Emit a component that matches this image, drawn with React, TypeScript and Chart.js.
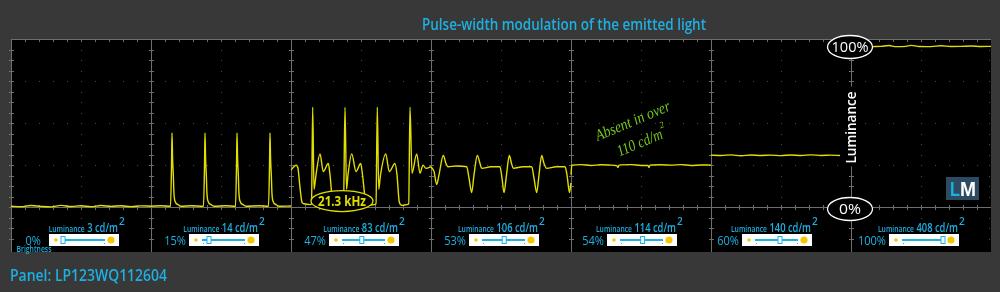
import React, { useEffect, useRef } from 'react';
import { Chart, registerables } from 'chart.js';

Chart.register(...registerables);

// ---------- data ----------
const brightnessPct = [0, 15, 47, 53, 54, 60, 100];
const luminanceCd = [3, 14, 83, 106, 114, 140, 408];
const frequencyLabel = '21.3 kHz';
const titleText = 'Pulse-width modulation of the emitted light';
const panelText = 'Panel: LP123WQ112604';
const absentLine1 = 'Absent in over';
const absentLine2 = '110 cd/m';

// each trace: [time within panel (0..140), luminance %]
const trace0: [number, number][] = [
  [0, 0.5], [10, 0.2], [20, 0.9], [30, 0.4], [40, 0.1], [50, 1.0], [60, 0.3], [70, 0.8],
  [80, 0.2], [90, 0.9], [100, 0.4], [110, 0.8], [120, 0.2], [130, 0.7], [140, 0.5],
];
const trace15: [number, number][] = [
  [0, 0.5], [10, 0.8], [19.5, 0.5], [20.5, 25], [21, 46], [21.6, 30], [22.3, 20], [23, 8], [24.5, 3], [27, 1.5], [30, 0.5],
  [40, 0.8], [52.5, 0.5], [53.5, 25], [54, 46], [54.6, 30], [55.3, 20], [56, 8], [57.5, 3], [60, 1.5], [63, 0.5],
  [75, 0.8], [84.5, 0.5], [85.5, 25], [86, 46], [86.6, 30], [87.3, 20], [88, 8], [89.5, 3], [92, 1.5], [95, 0.5],
  [108, 0.8], [117.5, 0.5], [118.5, 25], [119, 46], [119.6, 30], [120.3, 20], [121, 8], [122.5, 3], [125, 1.5], [128, 0.5],
  [140, 0.6],
];
const trace47: [number, number][] = [
  [0, 23], [3, 25], [5, 26], [7, 24], [9, 12], [11, 3], [13, 2], [19, 1.5], [20.5, 2], [21.7, 62], [23, 11], [25, 20],
  [29, 33], [32.3, 22], [37.3, 27], [39, 20], [41.7, 3], [44, 1], [50, 1.5], [52.5, 2], [54, 62], [55.5, 11], [57, 20],
  [60.7, 33], [65, 22], [69.7, 27], [71.5, 20], [74.7, 3], [77, 1], [83, 1.5], [85, 2], [86.3, 62], [87.7, 11], [89.5, 20],
  [94.7, 33], [98.3, 22], [104, 27], [106, 20], [108.3, 3], [111, 1], [116, 1.5], [117.7, 2], [119, 62], [121, 21],
  [125.7, 33], [129, 21], [132, 26], [135, 24], [140, 25],
];
const trace53: [number, number][] = [
  [0, 25], [3, 22], [5.7, 14], [8, 20], [12.3, 32], [15, 27], [17, 25], [25, 25.5], [35.7, 25], [38, 18], [40.7, 9],
  [43, 20], [46.3, 32], [49, 27], [50.7, 24], [60, 25], [69, 25], [71, 18], [73, 9], [75.5, 20], [78.3, 32], [80.5, 27],
  [82.3, 24], [92, 25], [100.7, 25], [103, 18], [105.7, 9], [108, 20], [110.7, 32], [113, 27], [115.7, 24], [125, 25],
  [134, 25], [136, 20], [138.5, 9], [140, 15],
];
const trace54: [number, number][] = [
  [0, 20], [0.8, 26], [10, 26.3], [20, 25.8], [30, 26.2], [40, 26], [46, 25.5], [47, 24.5], [48, 26], [60, 26.3],
  [70, 25.8], [77, 25.8], [78, 24.5], [79, 26], [90, 26.2], [100, 26], [110, 26.3], [120, 25.8], [130, 26.1], [140, 26],
];
const trace60: [number, number][] = [
  [0, 32.2], [10, 32], [20, 32.4], [30, 31.8], [40, 32.3], [50, 32], [60, 32.2], [70, 31.9], [80, 32.3], [90, 32],
  [100, 32.4], [110, 32], [120, 32.2], [129, 32],
];
const trace100: [number, number][] = [
  [22, 99.6], [30, 99.8], [38, 100.3], [45, 99.6], [55, 99.8], [60, 100.4], [68, 99.7], [80, 99.6], [90, 100.2],
  [100, 99.7], [110, 99.8], [120, 100], [130, 99.7], [140, 99.8],
];
const traces = [trace0, trace15, trace47, trace53, trace54, trace60, trace100];

const PANEL = 140;
const Y_MAX = 104.35;
const Y_MIN = -26.09;

const CYAN = '#1db0e2';
const YELLOW = '#e2de00';

function buildPoints() {
  const pts: { x: number; y: number | null }[] = [];
  traces.forEach((tr, i) => {
    if (i > 0) pts.push({ x: i * PANEL, y: null });
    tr.forEach(([t, v]) => pts.push({ x: i * PANEL + t, y: v }));
  });
  return pts;
}

function drawScaled(ctx: CanvasRenderingContext2D, text: string, x: number, y: number, sx: number, align: 'left' | 'center' | 'right') {
  const w = ctx.measureText(text).width * sx;
  const x0 = align === 'left' ? x : align === 'center' ? x - w / 2 : x - w;
  ctx.save();
  ctx.translate(x0, y);
  ctx.scale(sx, 1);
  ctx.textAlign = 'left';
  ctx.fillText(text, 0, 0);
  ctx.restore();
  return w;
}

function drawFit(ctx: CanvasRenderingContext2D, text: string, x: number, y: number, width: number, align: 'left' | 'center' | 'right') {
  const w = ctx.measureText(text).width;
  return drawScaled(ctx, text, x, y, width / w, align);
}

const backgroundPlugin = {
  id: 'scopeBackground',
  beforeDraw(chart: any) {
    const { ctx, chartArea: a } = chart;
    ctx.save();
    ctx.fillStyle = '#383838';
    ctx.fillRect(0, 0, chart.width, chart.height);
    ctx.fillStyle = '#000000';
    ctx.fillRect(a.left, a.top, a.right - a.left, a.bottom - a.top + 3);
    ctx.restore();
  },
};

const gridPlugin = {
  id: 'scopeGrid',
  beforeDatasetsDraw(chart: any) {
    const { ctx, chartArea: a } = chart;
    const w = a.right - a.left;
    const h = a.bottom - a.top;
    const dx = w / 14;
    const dy = h / 5;
    const mx = dx / 5;
    const my = dy / 4;
    ctx.save();
    ctx.fillStyle = '#4c4c4c';
    for (let k = 1; k <= 3; k++) {
      const yy = Math.round(a.top + k * dy);
      for (let xx = a.left + mx; xx < a.right; xx += mx) ctx.fillRect(Math.round(xx), yy, 1, 1);
    }
    for (let j = 0; j < 7; j++) {
      const xx = Math.round(a.left + dx + j * 2 * dx);
      for (let yy = a.top + my; yy < a.bottom; yy += my) ctx.fillRect(xx, Math.round(yy), 1, 1);
    }
    for (let yy = a.top + my; yy < a.bottom; yy += my) ctx.fillRect(Math.round(a.right) - 2, Math.round(yy), 1, 1);
    ctx.fillStyle = '#6e6e6e';
    for (let j = 0; j < 7; j++) {
      const xx = Math.round(a.left + j * 2 * dx);
      ctx.fillRect(xx, a.top, 1, h + 3);
      for (let yy = a.top + my; yy < a.bottom; yy += my) ctx.fillRect(xx - 2, Math.round(yy), 5, 1);
    }
    const base = Math.round(a.top + 4 * dy);
    ctx.fillRect(a.left, Math.round(a.top), w, 1);
    ctx.fillRect(a.left, base, w, 1);
    for (let xx = a.left + mx; xx < a.right; xx += mx) {
      ctx.fillRect(Math.round(xx), Math.round(a.top), 1, 3);
      ctx.fillRect(Math.round(xx), base - 2, 1, 5);
    }
    ctx.restore();
  },
};

function ellipseLabel(ctx: CanvasRenderingContext2D, cx: number, cy: number, rx: number, ry: number, stroke: string, text: string, font: string, textW: number) {
  ctx.save();
  ctx.beginPath();
  ctx.ellipse(cx, cy, rx, ry, 0, 0, Math.PI * 2);
  ctx.fillStyle = '#000';
  ctx.fill();
  ctx.lineWidth = 1.3;
  ctx.strokeStyle = stroke;
  ctx.stroke();
  ctx.fillStyle = stroke;
  ctx.font = font;
  ctx.textBaseline = 'middle';
  drawFit(ctx, text, cx, cy + 1, textW, 'center');
  ctx.restore();
}

const overlayPlugin = {
  id: 'scopeOverlay',
  afterDatasetsDraw(chart: any) {
    const { ctx, chartArea: a, scales } = chart;
    const xs = scales.x;
    const ys = scales.y;
    const px = (panel: number, t: number) => xs.getPixelForValue(panel * PANEL + t);

    ellipseLabel(ctx, px(2, 51), ys.getPixelForValue(3.7), 31, 10.5, YELLOW, frequencyLabel, 'bold 14px "Open Sans"', 48);

    const bx = Math.round(px(6, 0));
    ctx.save();
    ctx.fillStyle = '#000';
    ctx.fillRect(bx - 8, ys.getPixelForValue(50) - 40, 17, 80);
    ctx.translate(bx + 1, ys.getPixelForValue(50) + 1);
    ctx.rotate(-Math.PI / 2);
    ctx.fillStyle = '#ffffff';
    ctx.font = '600 15px "Open Sans"';
    ctx.textBaseline = 'middle';
    drawFit(ctx, 'Luminance', 0, 0, 72, 'center');
    ctx.restore();
    ellipseLabel(ctx, bx - 1, ys.getPixelForValue(100) + 1, 22.5, 11.5, '#ffffff', '100%', '15px "Open Sans"', 37);
    ellipseLabel(ctx, bx - 1, ys.getPixelForValue(0) + 2, 22.5, 11.5, '#ffffff', '0%', '15px "Open Sans"', 22);

    ctx.save();
    ctx.fillStyle = '#76c81c';
    ctx.font = 'italic 16px "Liberation Serif"';
    ctx.textBaseline = 'middle';
    ctx.translate(px(4, 62), ys.getPixelForValue(53));
    ctx.rotate(-0.4);
    drawFit(ctx, absentLine1, 0, 0, 80, 'center');
    ctx.restore();
    ctx.save();
    ctx.fillStyle = '#76c81c';
    ctx.font = 'italic 16px "Liberation Serif"';
    ctx.textBaseline = 'middle';
    ctx.translate(px(4, 69), ys.getPixelForValue(39.5));
    ctx.rotate(-0.4);
    const w2 = drawFit(ctx, absentLine2, 0, 0, 48, 'center');
    ctx.font = 'italic 9px "Liberation Serif"';
    ctx.fillText('2', w2 / 2 + 1, -8);
    ctx.restore();

    ctx.save();
    const lx = a.right - 45;
    const ly = a.bottom - 72;
    ctx.fillStyle = '#2c4a62';
    ctx.fillRect(lx, ly, 33, 23);
    ctx.font = 'bold 20px "Liberation Sans"';
    ctx.textBaseline = 'alphabetic';
    ctx.fillStyle = CYAN;
    drawFit(ctx, 'L', lx + 4, ly + 19, 10, 'left');
    ctx.fillStyle = '#ffffff';
    drawFit(ctx, 'M', lx + 14, ly + 19, 16, 'left');
    ctx.restore();

    const boxOffsets = [38, 38, 38, 38, 36, 31, 38];
    brightnessPct.forEach((b, i) => {
      const box = Math.round(px(i, 0)) + boxOffsets[i];
      const by = 234;
      ctx.save();
      ctx.fillStyle = '#ffffff';
      ctx.fillRect(box, by, 70, 12);
      ctx.fillStyle = '#f6c700';
      ctx.beginPath(); ctx.arc(box + 7, by + 6, 1.8, 0, Math.PI * 2); ctx.fill();
      ctx.beginPath(); ctx.arc(box + 62, by + 6, 3.6, 0, Math.PI * 2); ctx.fill();
      ctx.fillStyle = CYAN;
      ctx.fillRect(box + 13, by + 5, 43, 2);
      ctx.fillRect(box + 14, by + 9, 1, 1);
      ctx.fillRect(box + 55, by + 9, 1, 1);
      const tx = box + 14 + b * 0.4;
      ctx.fillStyle = '#ffffff';
      ctx.strokeStyle = CYAN;
      ctx.lineWidth = 1;
      ctx.fillRect(tx - 2, by + 2.5, 4, 7);
      ctx.strokeRect(tx - 2, by + 2.5, 4, 7);

      ctx.fillStyle = CYAN;
      ctx.textBaseline = 'alphabetic';
      ctx.font = '500 13px "Open Sans"';
      drawScaled(ctx, `${b}%`, i === 0 ? box - 8 : box - 3, 245, 0.85, 'right');
      if (i === 0) {
        ctx.font = '600 8.5px "Open Sans"';
        drawFit(ctx, 'Brightness', box - 15, 252, 35, 'center');
      }
      ctx.font = '600 12px "Open Sans"';
      const nw = drawScaled(ctx, `${luminanceCd[i]} cd/m`, box + 69, 232, 0.78, 'right');
      ctx.font = '600 9.5px "Open Sans"';
      drawFit(ctx, 'Luminance', box + 69 - nw - 2.5, 232, 36, 'right');
      ctx.font = '600 10px "Open Sans"';
      ctx.fillText('2', box + 70, 225);
      ctx.restore();
    });
  },
  afterDraw(chart: any) {
    const { ctx } = chart;
    ctx.save();
    ctx.fillStyle = CYAN;
    ctx.textBaseline = 'alphabetic';
    ctx.font = '600 16px "Open Sans"';
    drawFit(ctx, titleText, 564, 30, 284, 'center');
    ctx.font = '600 17px "Open Sans"';
    drawFit(ctx, panelText, 10, 281, 157, 'left');
    ctx.restore();
  },
};

export default function App() {
  const canvasRef = useRef<HTMLCanvasElement | null>(null);

  useEffect(() => {
    document.body.style.margin = '0';
    document.body.style.background = '#383838';
    const canvas = canvasRef.current;
    if (!canvas) return;
    const chart = new Chart(canvas, {
      type: 'line',
      data: {
        datasets: [
          {
            label: 'Luminance',
            data: buildPoints(),
            borderColor: YELLOW,
            borderWidth: 1.4,
            pointRadius: 0,
            cubicInterpolationMode: 'monotone',
            spanGaps: false,
          },
        ],
      },
      options: {
        responsive: false,
        animation: false,
        devicePixelRatio: 1,
        layout: { padding: { left: 11, right: 9, top: 39, bottom: 43 } },
        scales: {
          x: { type: 'linear', min: 0, max: 7 * PANEL, display: false },
          y: { type: 'linear', min: Y_MIN, max: Y_MAX, display: false },
        },
        plugins: {
          legend: { display: false },
          tooltip: { enabled: false },
        },
      },
      plugins: [backgroundPlugin, gridPlugin, overlayPlugin],
    } as any);
    return () => chart.destroy();
  }, []);

  return (
    <div style={{ width: 1000, height: 292, background: '#383838', position: 'relative' }}>
      <canvas ref={canvasRef} width={1000} height={292} style={{ display: 'block' }} />
    </div>
  );
}
